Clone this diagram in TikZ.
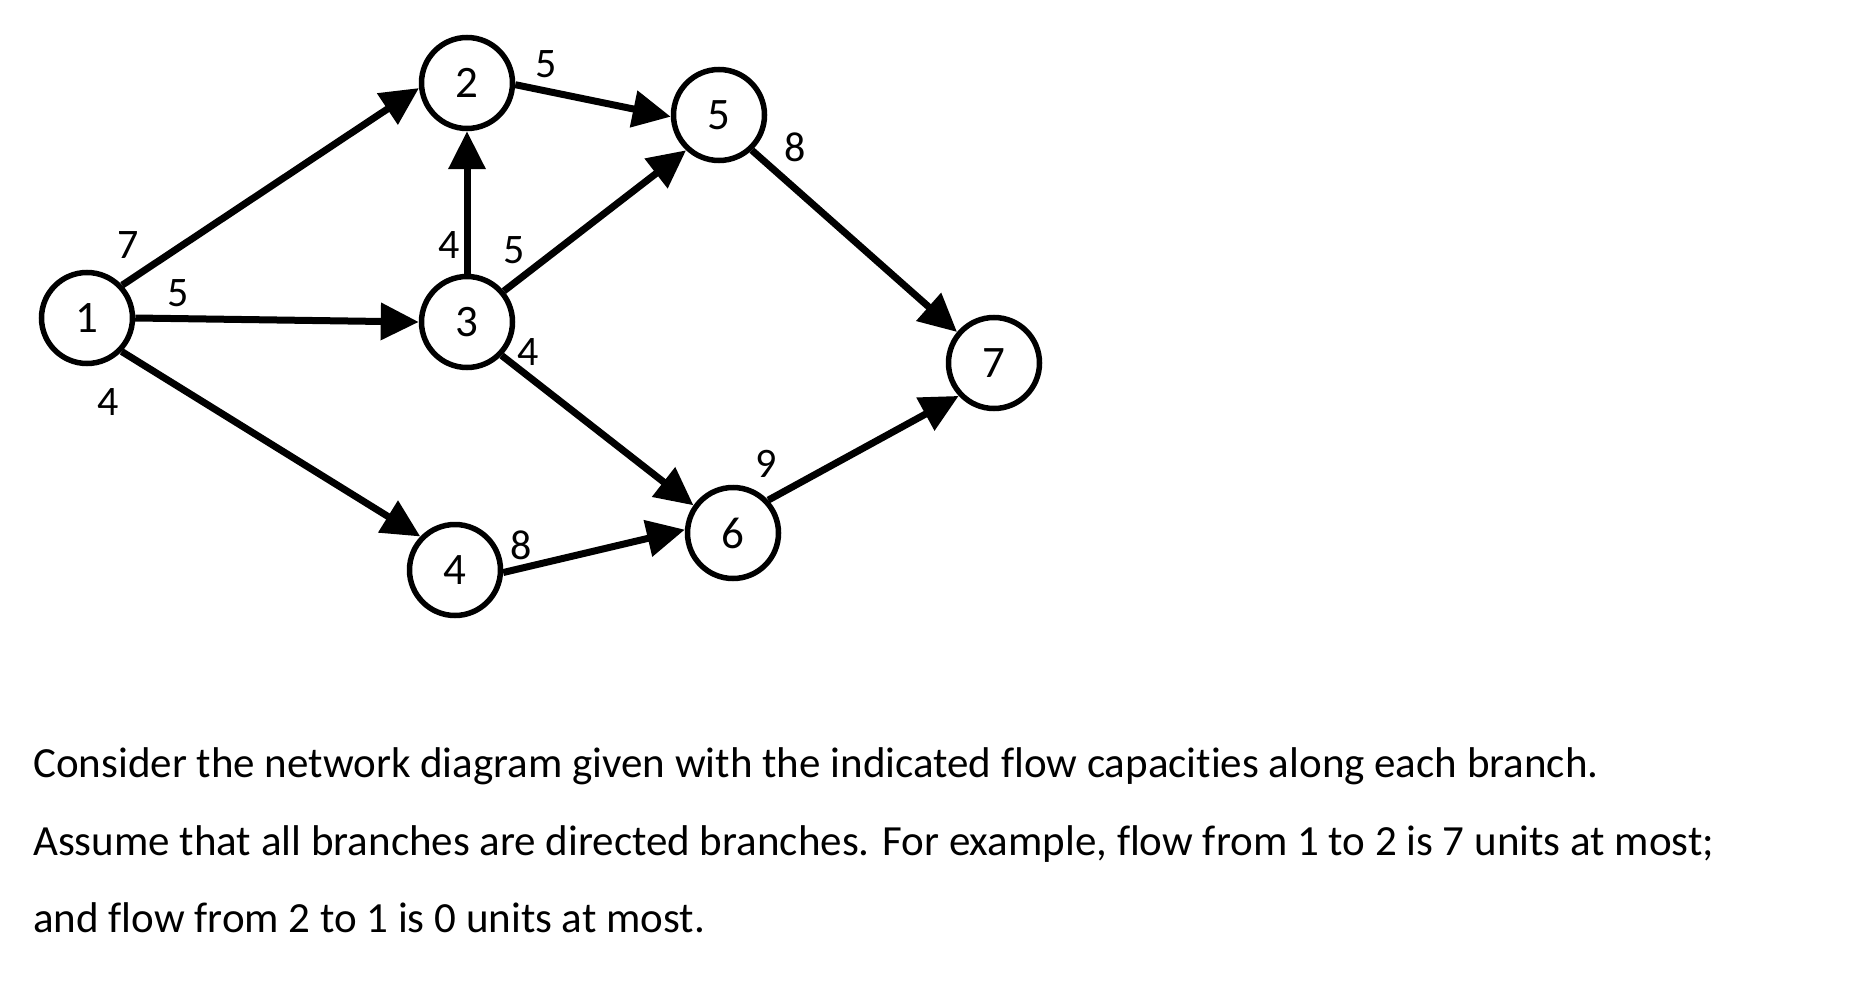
\documentclass[tikz,border=0pt]{standalone}
\usepackage{fontspec}
\setmainfont{Carlito}[Ligatures=NoCommon]
\usetikzlibrary{arrows.meta}
\begin{document}
\begin{tikzpicture}[x=1pt,y=-1pt,
  vtx/.style={circle, draw, line width=5.5pt, minimum size=91pt, inner sep=0pt, font=\fontsize{45}{45}\selectfont},
  lab/.style={font=\fontsize{42}{42}\selectfont, inner sep=0pt},
  edge/.style={line width=7pt, -{Triangle[length=38pt,width=36pt]}},
  txt/.style={font=\fontsize{43}{50}\selectfont, anchor=base west, inner sep=0pt}]
\useasboundingbox (0,0) rectangle (1862,992);
% vertices
\node[vtx] (n1) at (87,318) {1};
\node[vtx] (n2) at (467,83) {2};
\node[vtx] (n3) at (467,322) {3};
\node[vtx] (n4) at (455,570) {4};
\node[vtx] (n5) at (719,115) {5};
\node[vtx] (n6) at (733,533) {6};
\node[vtx] (n7) at (994,363) {7};
% edges
\draw[edge] (n1.43) -- (n2.186);
\draw[edge] (n1.0) -- (n3.180);
\draw[edge] (n1.-44) -- (n4.136);
\draw[edge] (n3.north) -- (n2.south);
\draw[edge] (n2.-2) -- (n5.182);
\draw[edge] (n3.40) -- (n5.227);
\draw[edge] (n5.-47) -- (n7.140);
\draw[edge] (n3.-44) -- (n6.145);
\draw[edge] (n4.-3) -- (n6.176);
\draw[edge] (n6.43) -- (n7.223);
% capacities
\node[lab] (c12) at (128,245) {7};
\node[lab] (c13) at (178,293) {5};
\node[lab] (c14) at (108,402) {4};
\node[lab] (c32) at (449,245) {4};
\node[lab] (c35) at (514,250) {5};
\node[lab] (c36) at (528,352) {4};
\node[lab] (c25) at (546,64) {5};
\node[lab] (c57) at (795,147) {8};
\node[lab] (c67) at (766,464) {9};
\node[lab] (c46) at (521,545) {8};
% text
\node[txt] (t1) at (33,777) {Consider the network diagram given with the indicated flow capacities along each branch.};
\node[txt] (t2) at (33,855) {Assume that all branches are directed branches. For example, flow from 1 to 2 is 7 units at most;};
\node[txt] (t3) at (33,932) {and flow from 2 to 1 is 0 units at most.};
\end{tikzpicture}
\end{document}
